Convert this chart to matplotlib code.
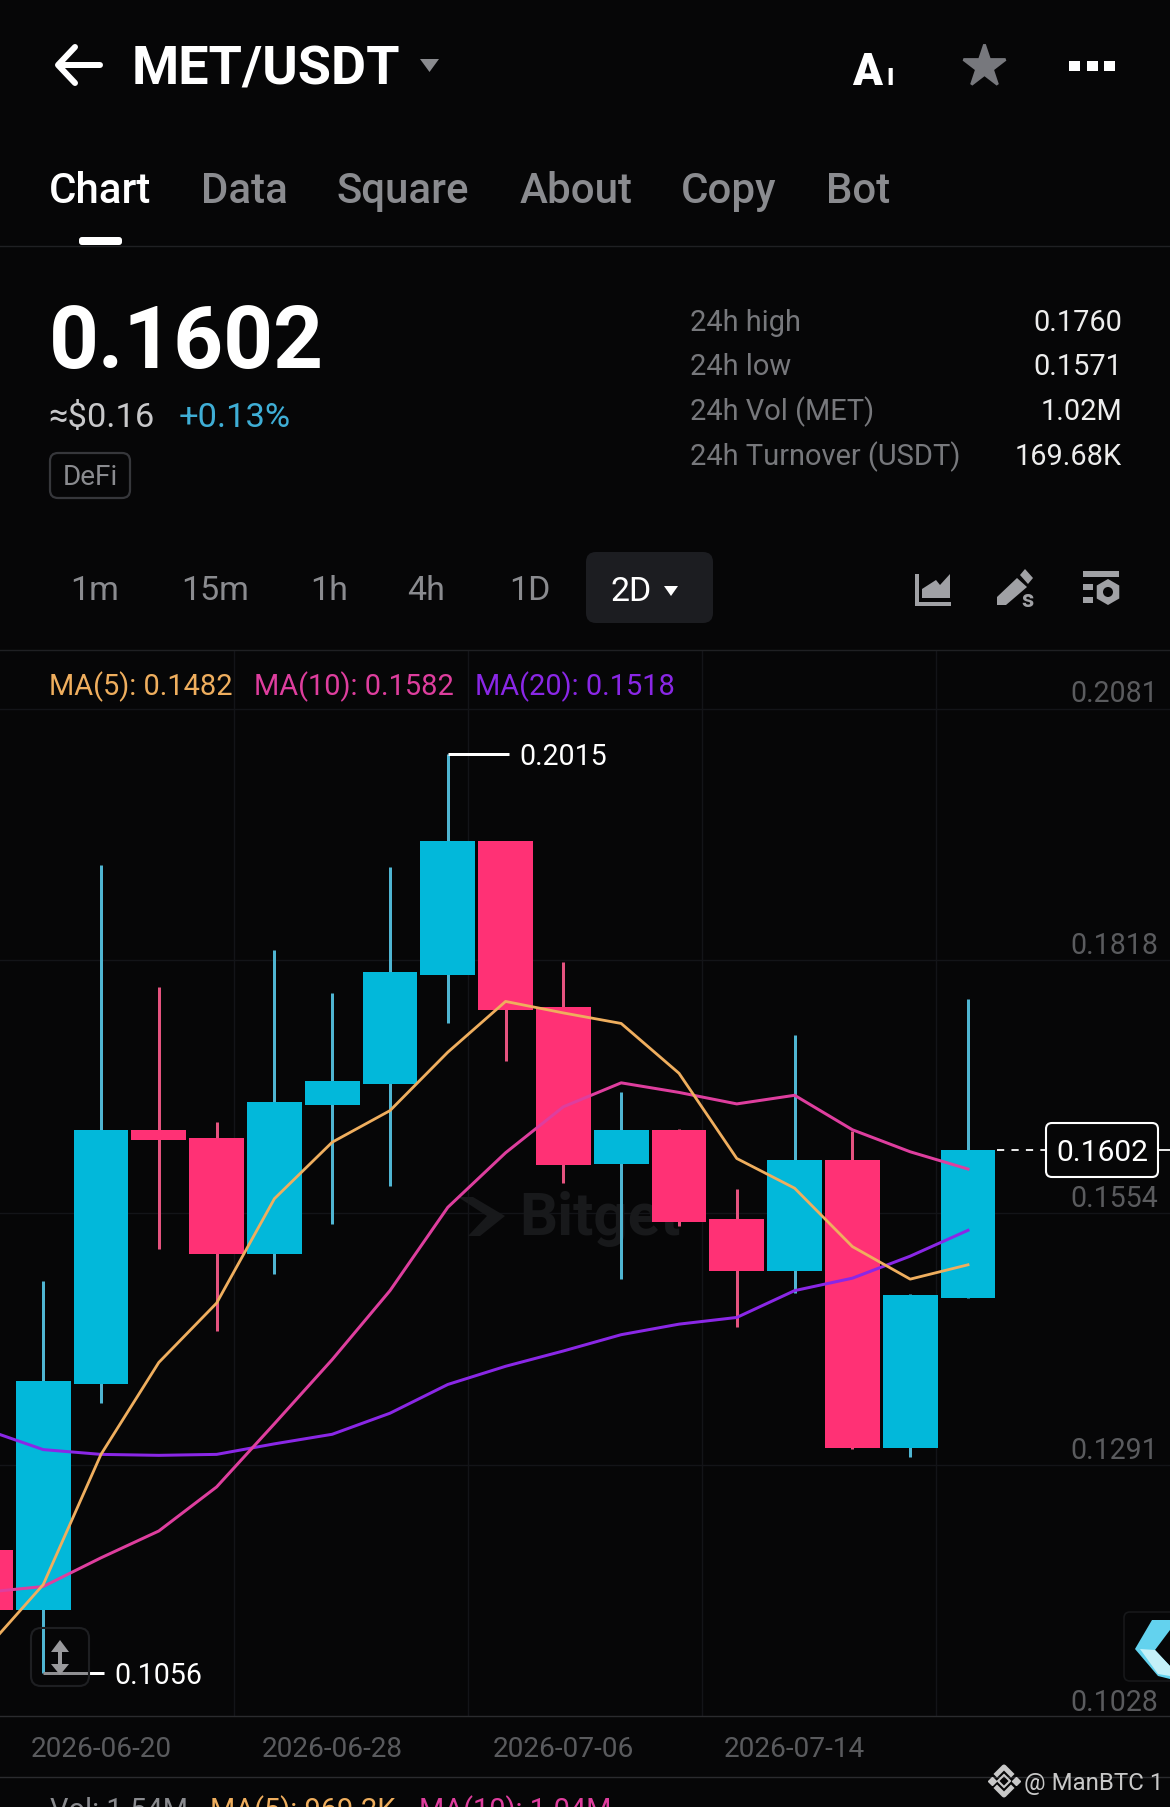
import matplotlib
matplotlib.use('Agg')
from matplotlib import pyplot as plt
from matplotlib.patches import FancyBboxPatch, Polygon, Rectangle, RegularPolygon, Circle

dates = ['2026-06-16', '2026-06-18', '2026-06-20', '2026-06-22', '2026-06-24', '2026-06-26',
         '2026-06-28', '2026-06-30', '2026-07-02', '2026-07-04', '2026-07-06', '2026-07-08',
         '2026-07-10', '2026-07-12', '2026-07-14', '2026-07-16', '2026-07-18', '2026-07-20']
opens = [0.1184, 0.1121, 0.1358, 0.1623, 0.1614, 0.1493, 0.1649, 0.1671, 0.1785,
         0.1925, 0.1751, 0.1587, 0.1623, 0.1530, 0.1475, 0.1591, 0.1291, 0.1447]
closes = [0.1121, 0.1361, 0.1623, 0.1612, 0.1493, 0.1652, 0.1674, 0.1788, 0.1925,
          0.1748, 0.1586, 0.1623, 0.1527, 0.1475, 0.1591, 0.1291, 0.1450, 0.1602]
highs = [0.1184, 0.1465, 0.1899, 0.1772, 0.1631, 0.1811, 0.1766, 0.1897, 0.2015,
         0.1925, 0.1798, 0.1662, 0.1624, 0.1561, 0.1722, 0.1622, 0.1451, 0.1760]
lows = [0.1121, 0.1056, 0.1338, 0.1498, 0.1413, 0.1472, 0.1525, 0.1564, 0.1735,
        0.1695, 0.1567, 0.1467, 0.1523, 0.1417, 0.1453, 0.1290, 0.1281, 0.1447]
ma5 = [0.1080, 0.1148, 0.1284, 0.1380, 0.1442, 0.1551, 0.1610, 0.1643, 0.1704,
       0.1757, 0.1745, 0.1734, 0.1682, 0.1593, 0.1562, 0.1501, 0.1467, 0.1482]
ma10 = [0.1140, 0.1146, 0.1176, 0.1204, 0.1250, 0.1316, 0.1383, 0.1455, 0.1542,
        0.1599, 0.1647, 0.1672, 0.1662, 0.1650, 0.1659, 0.1623, 0.1600, 0.1582]
ma20 = [0.1310, 0.1289, 0.1284, 0.1283, 0.1284, 0.1295, 0.1305, 0.1327, 0.1357,
        0.1376, 0.1392, 0.1409, 0.1420, 0.1427, 0.1455, 0.1468, 0.1491, 0.1518]
price_ticks = [0.2081, 0.1818, 0.1554, 0.1291, 0.1028]
date_ticks = [2, 6, 10, 14]
last_price = 0.1602

BG = '#060607'
UP = '#02B8DA'
DOWN = '#FF3175'
WICK_UP = '#4FB5D2'
WICK_DOWN = '#E5537F'
ORANGE = '#EFAE5E'
PINK = '#DE3E9E'
PURPLE = '#8A27E6'
GREY = '#8A8B8F'
DIM = '#5A5B5E'
LINE = '#1F2023'
GRID = '#131418'

W, H = 1170, 1807
plt.rcParams['font.family'] = ['Roboto', 'DejaVu Sans']
fig = plt.figure(figsize=(W / 100, H / 100), dpi=100, facecolor=BG)

# chart panel covers pixel rows 650 to 1716
ax = fig.add_axes([0, 1 - 1716 / H, 1, (1716 - 650) / H], facecolor=BG)
ui = fig.add_axes([0, 0, 1, 1], facecolor='none')
ui.set_xlim(0, W)
ui.set_ylim(H, 0)
ui.axis('off')


def px(size):
    return size * 0.72


def label(x, y, s, size, color='white', ha='left', weight='normal', zorder=5):
    return ui.text(x, y, s, fontsize=px(size), color=color, ha=ha, va='baseline',
                   fontweight=weight, zorder=zorder)


# candles
xs = list(range(len(dates)))
for i in xs:
    up = closes[i] >= opens[i]
    ax.vlines(i, lows[i], highs[i], color=WICK_UP if up else WICK_DOWN, lw=px(3), zorder=2)
    ax.bar(i, abs(closes[i] - opens[i]), bottom=min(opens[i], closes[i]), width=0.946,
           color=UP if up else DOWN, linewidth=0, zorder=3)

ax.plot(xs, ma20, color=PURPLE, lw=px(3), zorder=4)
ax.plot(xs, ma10, color=PINK, lw=px(3), zorder=4)
ax.plot(xs, ma5, color=ORANGE, lw=px(2.8), zorder=4)

ax.set_xlim(0.2526, 20.495)
ax.set_ylim(0.10108, 0.2124)
ax.set_xticks(date_ticks)
ax.set_xticklabels([dates[i] for i in date_ticks])
ax.set_yticks(price_ticks)
ax.set_yticklabels(['%.4f' % v for v in price_ticks])
ax.yaxis.tick_right()
ax.tick_params(axis='x', length=0, pad=px(20), labelsize=px(28), labelcolor=DIM)
ax.tick_params(axis='y', length=0, pad=-px(12), labelsize=px(28.5), labelcolor=DIM)
for t in ax.get_yticklabels():
    t.set_ha('right')
for s in ax.spines.values():
    s.set_visible(False)

# grid sits at even fifths of the panel, not on the price ticks
for f in [0.9447, 0.7092, 0.4719, 0.2355]:
    ax.plot([0, 1], [f, f], transform=ax.transAxes, color=GRID, lw=1, zorder=0)
for f in [0.2, 0.4, 0.6, 0.8]:
    ax.plot([f, f], [0, 1], transform=ax.transAxes, color=GRID, lw=1, zorder=0)

# watermark
ax.text(519, 1235, 'Bitget', transform=ui.transData, fontsize=px(60), fontweight='bold',
        color='#18191B', zorder=1, va='baseline')
ax.add_patch(Polygon([(458, 1197), (473, 1197), (505, 1216), (480, 1236), (468, 1236), (487, 1216)],
                     transform=ui.transData, facecolor='#18191B', edgecolor='none', zorder=1))

# high / low / last price markers
ax.plot([8, 9.06], [0.2015, 0.2015], color='white', lw=px(3), zorder=5, solid_capstyle='butt')
ax.text(9.24, 0.2015, '0.2015', color='white', fontsize=px(28.5), va='center_baseline', zorder=5)
ax.plot([1, 2.0], [0.1056, 0.1056], color='#8F8F92', lw=px(3), zorder=5, solid_capstyle='butt')
ax.plot([1.8, 2.05], [0.1056, 0.1056], color='white', lw=px(3), zorder=5, solid_capstyle='butt')
ax.text(2.24, 0.1056, '0.1056', color='white', fontsize=px(28.5), va='center_baseline', zorder=5)
ax.plot([17.5, 18.35], [last_price, last_price], color='white', lw=1.3, ls=(0, (4, 4)), zorder=5)
ax.plot([20.3, 20.5], [last_price, last_price], color='white', lw=1.3, zorder=5)

ui.add_patch(FancyBboxPatch((1049, 1126), 106, 48, boxstyle='round,pad=3,rounding_size=6',
                            facecolor=BG, edgecolor='white', lw=1.5, zorder=6))
ui.text(1102, 1150, '%.4f' % last_price, fontsize=px(30), color='white', ha='center',
        va='center_baseline', zorder=7)

# header
ui.plot([100, 59], [65, 65], color='white', lw=px(6), solid_capstyle='round')
ui.plot([75, 58, 75], [47, 65, 83], color='white', lw=px(6), solid_capstyle='round',
        solid_joinstyle='round')
label(132, 84, 'MET/USDT', 54, weight='bold')
ui.add_patch(Polygon([(420, 59), (439, 59), (429.5, 72)], facecolor=GREY, edgecolor='none'))
label(852, 85, 'A', 44, weight='black')
label(886, 85, 'I', 24, weight='black')
ui.plot([984], [66], marker='*', ms=px(44), color='#77787D', mec='#77787D', mew=2, ls='none')
for x0 in [1069, 1087, 1104]:
    ui.add_patch(Rectangle((x0, 61), 11, 10, facecolor='white', edgecolor='none'))

tabs = ['Chart', 'Data', 'Square', 'About', 'Copy', 'Bot']
tab_x = [49, 201, 337, 520, 681, 826]
for name, x0 in zip(tabs, tab_x):
    if name == 'Chart':
        label(x0, 203, name, 42, weight='medium')
    else:
        label(x0, 203, name, 42, color=GREY, weight='medium')
ui.add_patch(FancyBboxPatch((80, 238), 41, 6, boxstyle='round,pad=1,rounding_size=3',
                            facecolor='white', edgecolor='none', zorder=3))
ui.plot([0, W], [246, 246], color=LINE, lw=1)

# price block
label(49, 368, '0.1602', 87, weight='bold')
label(48, 427, '\u2248$0.16', 34.5, color='#C8C8CA')
label(179, 427, '+0.13%', 34.5, color='#3FAED6')
ui.add_patch(FancyBboxPatch((53, 456), 74, 39, boxstyle='round,pad=3,rounding_size=8',
                            facecolor='none', edgecolor='#36373B', lw=1.6))
label(90, 485, 'DeFi', 28, color=GREY, ha='center')

stat_names = ['24h high', '24h low', '24h Vol (MET)', '24h Turnover (USDT)']
stat_values = ['0.1760', '0.1571', '1.02M', '169.68K']
stat_y = [330.5, 375, 420, 465]
for name, val, y0 in zip(stat_names, stat_values, stat_y):
    label(690, y0, name, 29, color='#77787C')
    label(1122, y0, val, 29, color='#EDEDED', ha='right')

# interval row
intervals = ['1m', '15m', '1h', '4h', '1D']
interval_x = [70, 181, 310, 407, 509]
for name, x0 in zip(intervals, interval_x):
    label(x0, 600, name, 34, color=GREY)
ui.add_patch(FancyBboxPatch((592, 558), 115, 59, boxstyle='round,pad=6,rounding_size=10',
                            facecolor='#1C1D21', edgecolor='none'))
label(611, 601, '2D', 34)
ui.add_patch(Polygon([(664, 586), (678, 586), (671, 596)], facecolor='white', edgecolor='none'))

ICON = '#A0A1A5'
ui.add_patch(Rectangle((915, 574), 4, 32, facecolor=ICON, edgecolor='none'))
ui.add_patch(Rectangle((915, 602), 36, 4, facecolor=ICON, edgecolor='none'))
ui.add_patch(Polygon([(922, 598), (922, 589), (936, 580), (940, 585), (950, 574), (950, 598)],
                     facecolor=ICON, edgecolor='none'))
ui.add_patch(Polygon([(997, 605), (997, 597), (1017, 578), (1027, 587), (1006, 605)],
                     facecolor=ICON, edgecolor='none'))
ui.add_patch(Polygon([(1020, 575), (1025, 569), (1033, 578), (1028, 584)],
                     facecolor=ICON, edgecolor='none'))
ui.text(1021, 607, 's', fontsize=px(24), color=ICON, fontweight='bold', va='baseline')
ui.add_patch(Rectangle((1083, 571), 36, 6, facecolor=ICON, edgecolor='none'))
ui.add_patch(Rectangle((1083, 584), 10, 6, facecolor=ICON, edgecolor='none'))
ui.add_patch(Rectangle((1083, 597), 10, 6, facecolor=ICON, edgecolor='none'))
ui.add_patch(RegularPolygon((1108, 592), 6, radius=13, facecolor=ICON, edgecolor='none'))
ui.add_patch(Circle((1108, 592), 5, facecolor=BG, edgecolor='none'))

ui.plot([0, W], [650, 650], color=LINE, lw=1)
ui.plot([0, W], [1716, 1716], color='#2A2B2E', lw=1)
ui.plot([0, W], [1777, 1777], color='#2A2B2E', lw=1)

# moving average legend
label(49, 695, 'MA(5): 0.1482', 29, color=ORANGE)
label(254, 695, 'MA(10): 0.1582', 29, color=PINK)
label(475, 695, 'MA(20): 0.1518', 29, color=PURPLE)

# scale button
ui.add_patch(FancyBboxPatch((37, 1634), 46, 46, boxstyle='round,pad=6,rounding_size=10',
                            facecolor='none', edgecolor='#1E1F22', lw=1.5, zorder=6))
ui.add_patch(Polygon([(60, 1640), (51, 1652), (69, 1652)], facecolor='#9A9A9D', edgecolor='none', zorder=6))
ui.add_patch(Polygon([(60, 1675), (51, 1664), (69, 1664)], facecolor='#9A9A9D', edgecolor='none', zorder=6))
ui.plot([60, 60], [1650, 1666], color='#9A9A9D', lw=px(4), zorder=6)

# side chevron
ui.add_patch(FancyBboxPatch((1127, 1615), 50, 63, boxstyle='round,pad=3,rounding_size=6',
                            facecolor='none', edgecolor='#17181A', lw=1.2, clip_on=True))
ui.add_patch(Polygon([(1152, 1620), (1170, 1620), (1170, 1630), (1155, 1650), (1170, 1666),
                      (1170, 1679), (1158, 1676), (1135, 1649)],
                     facecolor='#63D2EE', edgecolor='none'))
ui.add_patch(Polygon([(1140, 1649), (1155, 1650), (1170, 1666), (1170, 1676), (1158, 1674)],
                     facecolor='#C4F0F8', edgecolor='none'))

# cut off volume row, the reference crops it the same way
label(50, 1819, 'Vol: 1.54M', 29, color=GREY)
label(210, 1819, 'MA(5): 969.2K', 29, color=ORANGE)
label(419, 1819, 'MA(10): 1.04M', 29, color=PINK)

# credit mark
MARK = '#C8C8C8'
ui.plot([992, 1016], [1781, 1781], marker='D', ms=px(6), color=MARK, ls='none', zorder=6)
ui.plot([1004], [1781], marker='D', ms=px(9), mfc='none', mec=MARK, mew=1.5, ls='none', zorder=6)
ui.plot([997, 1004, 1011], [1774, 1767, 1774], color=MARK, lw=px(5), zorder=6)
ui.plot([997, 1004, 1011], [1788, 1795, 1788], color=MARK, lw=px(5), zorder=6)
label(1024, 1790, '@ ManBTC 1', 24, color=MARK, zorder=6)

fig.savefig('out.png', dpi=100, facecolor=BG)
